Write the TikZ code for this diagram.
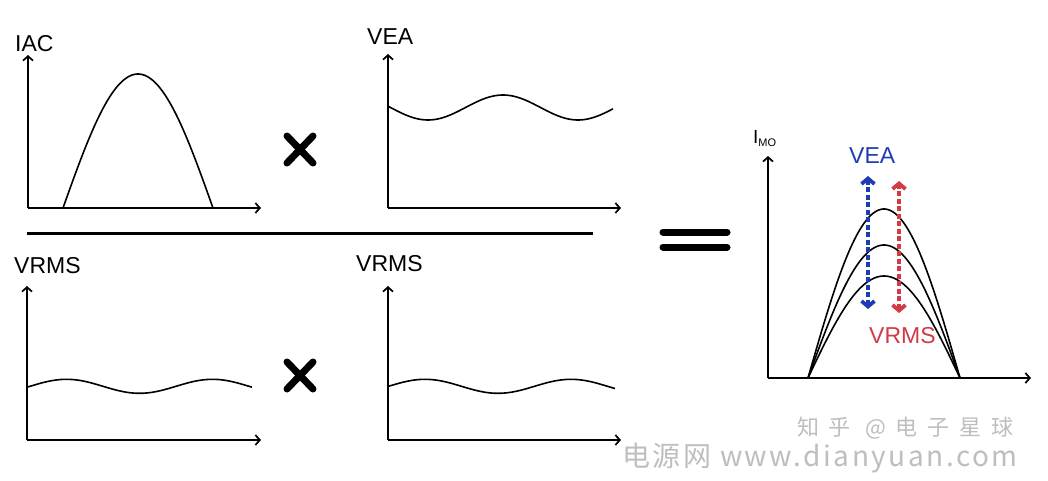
\documentclass[tikz,border=0pt]{standalone}
\usepackage{fontspec}
\setmainfont{Liberation Sans}
\newfontfamily\cjkwm{Noto Sans CJK SC}[LetterSpace=9]
\newfontfamily\cjkzh{Noto Sans CJK SC}[LetterSpace=44]
\usetikzlibrary{arrows.meta}
\definecolor{eablue}{HTML}{1E3CB4}
\definecolor{rmsred}{HTML}{D23A44}
\definecolor{wmgray}{HTML}{BEBEBE}
\begin{document}
\begin{tikzpicture}[x=1pt,y=-1pt,
  axisline/.style={line width=1.7pt,-{Straight Barb[length=4.5pt,width=10pt]}},
  curve/.style={line width=1.6pt},
  lbl/.style={inner sep=0pt,anchor=base west,font=\fontsize{23}{25}\selectfont},
  opsign/.style={line width=7pt,line cap=round},
  dasharrow/.style={line width=3.8pt,dash pattern=on 5pt off 2.5pt,{Straight Barb[length=5.5pt,width=13pt]}-{Straight Barb[length=5.5pt,width=13pt]}},
  wmtext/.style={inner sep=0pt,anchor=base west,text=wmgray}]
\useasboundingbox (0,0) rectangle (1048,480);
\fill[white] (0,0) rectangle (1048,480);

% ---------- IAC graph ----------
\coordinate (o1) at (28,208);
\coordinate (y1) at (28,55);
\coordinate (x1) at (261,208);
\draw[axisline] (o1) -- (y1);
\draw[axisline] (o1) -- (x1);
\node[lbl] (iac) at (15,51) {IAC};
\draw[curve] plot[domain=63:213,samples=80] (\x,{208-134*sin((\x-63)/150*180)});

% ---------- VEA graph ----------
\coordinate (o2) at (388,208);
\coordinate (y2) at (388,54);
\coordinate (x2) at (621,208);
\draw[axisline] (o2) -- (y2);
\draw[axisline] (o2) -- (x2);
\node[lbl] (vea) at (367,44) {VEA};
\draw[curve] plot[domain=388:613,samples=80] (\x,{107.5+12.5*cos((\x-428)/150*360)});

% ---------- fraction bar ----------
\coordinate (fb1) at (27,233.5);
\coordinate (fb2) at (593,233.5);
\draw[line width=3pt] (fb1) -- (fb2);

% ---------- VRMS graph 1 ----------
\coordinate (o3) at (27,440);
\coordinate (y3) at (27,286);
\coordinate (x3) at (261,440);
\draw[axisline] (o3) -- (y3);
\draw[axisline] (o3) -- (x3);
\node[lbl] (vrms1) at (14,273) {VRMS};
\draw[curve] plot[domain=27:252,samples=80] (\x,{386.3-7*cos((\x-66.5)/146*360)});

% ---------- VRMS graph 2 ----------
\coordinate (o4) at (388,440);
\coordinate (y4) at (388,286);
\coordinate (x4) at (621,440);
\draw[axisline] (o4) -- (y4);
\draw[axisline] (o4) -- (x4);
\node[lbl] (vrms2) at (356,271) {VRMS};
\draw[curve] plot[domain=388:615,samples=80] (\x,{386.3-7*cos((\x-425)/146*360)});

% ---------- operators ----------
\coordinate (ta1) at (287,136); \coordinate (ta2) at (313,163);
\coordinate (ta3) at (287,163); \coordinate (ta4) at (313,136);
\draw[opsign] (ta1) -- (ta2) (ta3) -- (ta4);
\coordinate (tb1) at (287,362); \coordinate (tb2) at (313,389);
\coordinate (tb3) at (287,389); \coordinate (tb4) at (313,362);
\draw[opsign] (tb1) -- (tb2) (tb3) -- (tb4);
\coordinate (eq1) at (663,232); \coordinate (eq2) at (727,232);
\coordinate (eq3) at (663,247); \coordinate (eq4) at (727,247);
\draw[opsign] (eq1) -- (eq2) (eq3) -- (eq4);

% ---------- IMO graph ----------
\coordinate (o5) at (768,378);
\coordinate (y5) at (768,156);
\coordinate (x5) at (1031,378);
\draw[axisline] (o5) -- (y5);
\draw[axisline] (o5) -- (x5);
\node[inner sep=0pt,anchor=base west,font=\fontsize{19}{21}\selectfont] (imo) at (753,143) {I\raisebox{-3pt}{\fontsize{11}{12}\selectfont MO}};
\foreach \h in {169,133,102}
  \draw[curve] plot[domain=808:960,samples=80] (\x,{378-\h*sin((\x-808)/152*180)});

\coordinate (ba) at (868,176);
\coordinate (bb) at (868,309);
\draw[dasharrow,eablue] (bb) -- (ba);
\coordinate (ra) at (899,181);
\coordinate (rb) at (899,313);
\draw[dasharrow,rmsred] (rb) -- (ra);
\node[lbl,text=eablue] (veab) at (849,163) {VEA};
\node[lbl,text=rmsred] (vrmsr) at (869,343) {VRMS};

% ---------- watermarks ----------
\node[wmtext,font=\cjkzh\fontsize{22}{24}\selectfont] (zh) at (797,435) {知乎 @电子星球};
\node[wmtext,font=\cjkwm\fontsize{28}{30}\selectfont] (dy) at (622,466) {电源网 www.dianyuan.com};
\end{tikzpicture}
\end{document}
